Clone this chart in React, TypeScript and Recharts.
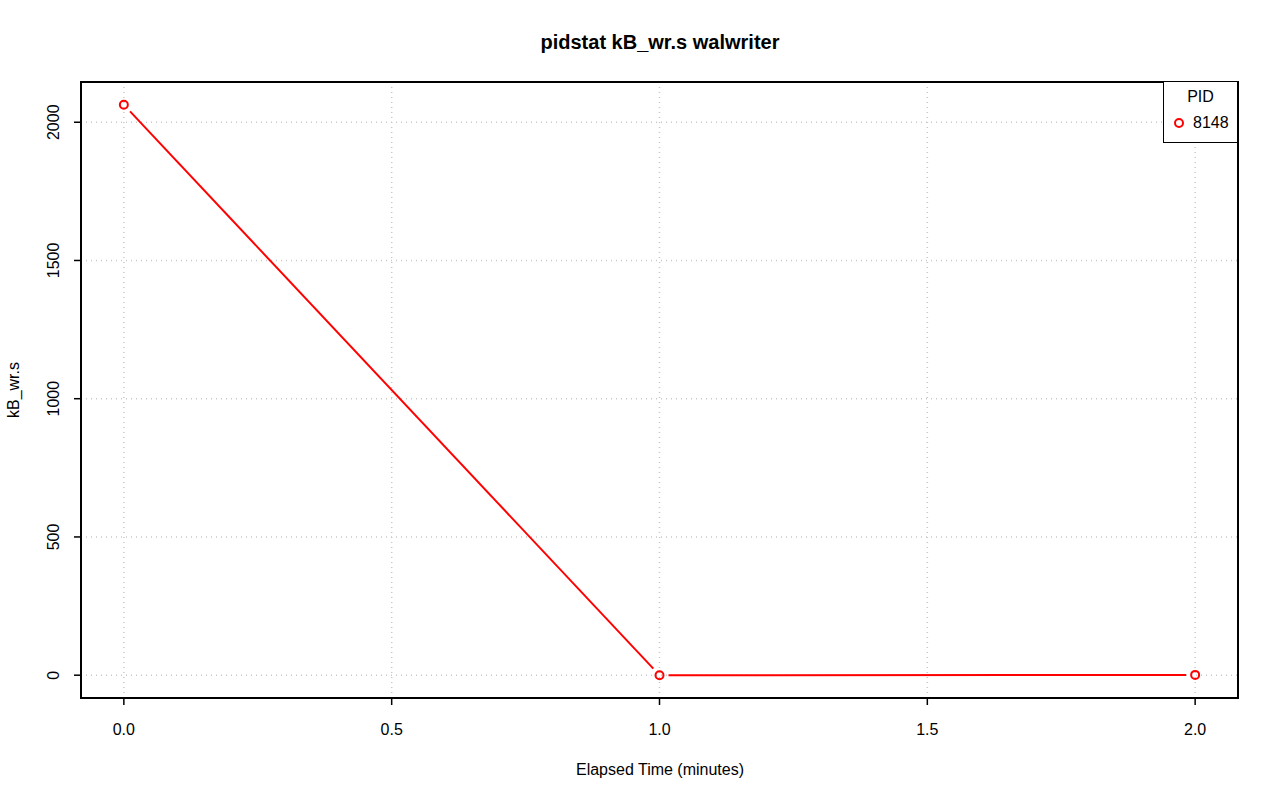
import { LineChart, Line, XAxis, YAxis, CartesianGrid, ReferenceArea, Legend } from 'recharts';

// elapsed minutes and kB_wr.s for PID 8148
const minutes = [0, 1, 2];
const kbWrS = [2063, 0, 1];
const xTicks = [0, 0.5, 1, 1.5, 2];
const yTicks = [0, 500, 1000, 1500, 2000];
const pidLabels = ['8148'];

const data = minutes.map((m, i) => ({ minutes: m, value: kbWrS[i] }));

const font = '"Liberation Sans", Arial, Helvetica, sans-serif';
const xDomain = [-0.08, 2.08];
const yDomain = [-82.52, 2145.52];
const GAP = 9;

const YTick = (props: any) => {
  const { x, y, payload } = props;
  return (
    <text
      x={x - 13}
      y={y}
      transform={`rotate(-90, ${x - 13}, ${y})`}
      textAnchor="middle"
      fontSize={16}
      fontFamily={font}
      fill="#000"
    >
      {payload.value}
    </text>
  );
};

const XTick = (props: any) => {
  const { x, y, payload } = props;
  return (
    <text x={x} y={y + 28} textAnchor="middle" fontSize={16} fontFamily={font} fill="#000">
      {payload.value.toFixed(1)}
    </text>
  );
};

// R type="b": segments stop short of each point
const PointDot = (props: any) => {
  const { cx, cy, index, points } = props;
  const next = points && points[index + 1];
  let seg = null;
  if (next) {
    const dx = next.x - cx;
    const dy = next.y - cy;
    const len = Math.sqrt(dx * dx + dy * dy);
    if (len > 2 * GAP) {
      const ux = dx / len;
      const uy = dy / len;
      seg = (
        <line
          x1={cx + ux * GAP}
          y1={cy + uy * GAP}
          x2={next.x - ux * GAP}
          y2={next.y - uy * GAP}
          stroke="red"
          strokeWidth={2}
        />
      );
    }
  }
  return (
    <g key={`dot-${index}`}>
      {seg}
      <circle cx={cx} cy={cy} r={4} fill="none" stroke="red" strokeWidth={2} />
    </g>
  );
};

const PidLegend = () => (
  <div
    style={{
      position: 'absolute',
      left: 1163,
      top: 82,
      width: 75,
      height: 61,
      boxSizing: 'border-box',
      border: '1.5px solid #000',
      borderTop: 'none',
      background: '#fff',
      fontFamily: font,
      fontSize: 16,
      lineHeight: '18px',
    }}
  >
    <div style={{ textAlign: 'center', marginTop: 6 }}>PID</div>
    {pidLabels.map((p) => (
      <div key={p} style={{ display: 'flex', alignItems: 'center', marginTop: 8, marginLeft: 9 }}>
        <svg width={12} height={12}>
          <circle cx={6} cy={6} r={4} fill="none" stroke="red" strokeWidth={2} />
        </svg>
        <span style={{ marginLeft: 8 }}>{p}</span>
      </div>
    ))}
  </div>
);

export default function App() {
  return (
    <div style={{ position: 'absolute', left: 0, top: 0, width: 1280, height: 801, background: '#fff' }}>
      <div
        style={{
          position: 'absolute',
          top: 30,
          width: 1320,
          textAlign: 'center',
          fontFamily: font,
          fontWeight: 'bold',
          fontSize: 20,
          lineHeight: '24px',
        }}
      >
        pidstat kB_wr.s walwriter
      </div>
      <div
        style={{
          position: 'absolute',
          top: 760,
          left: 0,
          width: 1320,
          textAlign: 'center',
          fontFamily: font,
          fontSize: 16,
          lineHeight: '20px',
        }}
      >
        Elapsed Time (minutes)
      </div>
      <div
        style={{
          position: 'absolute',
          left: 14,
          top: 390,
          transform: 'translate(-50%, -50%) rotate(-90deg)',
          fontFamily: font,
          fontSize: 16,
          whiteSpace: 'nowrap',
        }}
      >
        kB_wr.s
      </div>
      <LineChart
        width={1280}
        height={801}
        data={data}
        margin={{ top: 82, right: 42, left: 0, bottom: 0 }}
      >
        <CartesianGrid stroke="#c8c8c8" strokeDasharray="1 4" strokeWidth={1.5} />
        <XAxis
          dataKey="minutes"
          type="number"
          domain={xDomain}
          ticks={xTicks}
          height={103}
          axisLine={false}
          tickLine={{ stroke: '#000', strokeWidth: 1.5 }}
          tickSize={7}
          tick={<XTick />}
          allowDataOverflow
        />
        <YAxis
          type="number"
          domain={yDomain}
          ticks={yTicks}
          width={81}
          axisLine={false}
          tickLine={{ stroke: '#000', strokeWidth: 1.5 }}
          tickSize={7}
          tick={<YTick />}
          allowDataOverflow
        />
        <ReferenceArea
          x1={xDomain[0]}
          x2={xDomain[1]}
          y1={yDomain[0]}
          y2={yDomain[1]}
          fill="none"
          stroke="#000"
          strokeWidth={2}
          ifOverflow="visible"
        />
        <Line
          dataKey="value"
          stroke="none"
          strokeWidth={2}
          dot={<PointDot />}
          activeDot={false}
          isAnimationActive={false}
        />
        <Legend content={() => null} />
      </LineChart>
      <PidLegend />
    </div>
  );
}
